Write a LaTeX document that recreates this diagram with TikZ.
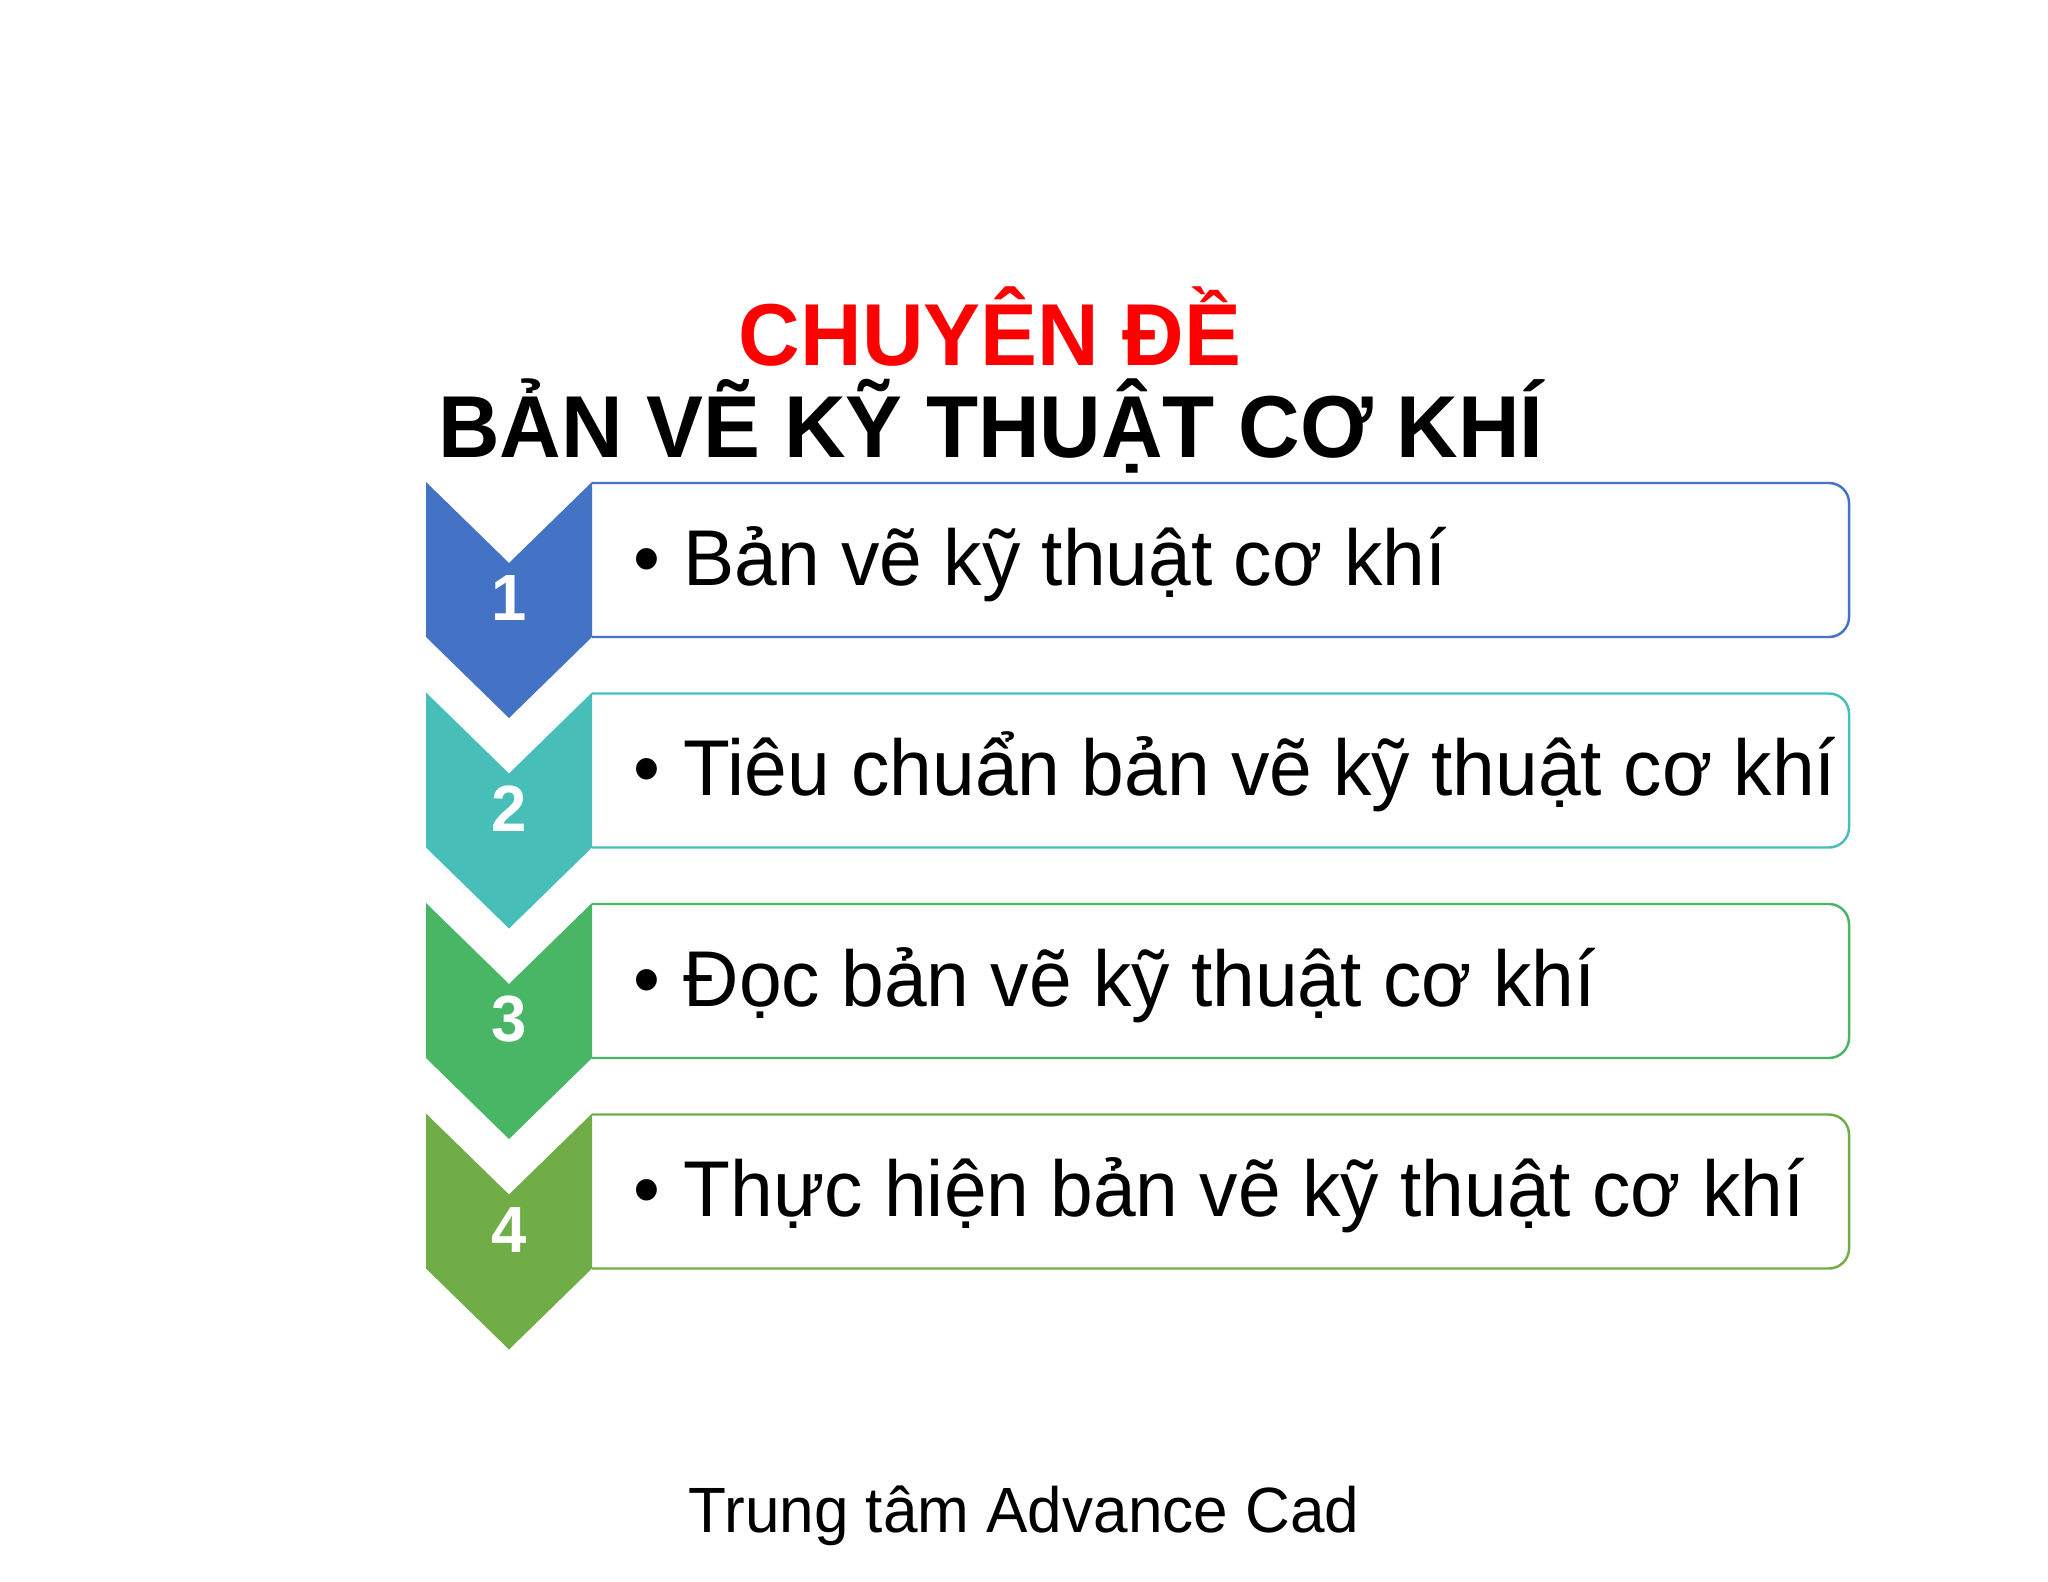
\documentclass[tikz,border=0pt]{standalone}
\usepackage{fontspec}
\setmainfont[FakeStretch=0.97]{Liberation Sans}

\definecolor{stepblue}{HTML}{4472C4}
\definecolor{stepteal}{HTML}{47BFB8}
\definecolor{stepgreen}{HTML}{48B664}
\definecolor{stepolive}{HTML}{70AD47}
\definecolor{titlered}{HTML}{FF0000}

\tikzset{
  numlabel/.style={text=white, inner sep=0pt, font=\fontsize{18.6}{22}\selectfont\bfseries},
  itemlabel/.style={anchor=base west, inner sep=0pt, font=\fontsize{22.5}{27}\selectfont},
  titlelabel/.style={anchor=base, inner sep=0pt, font=\fontsize{25}{30}\selectfont\bfseries},
  footlabel/.style={anchor=base, inner sep=0pt, font=\fontsize{18.2}{22}\selectfont}
}

\begin{document}
\begin{tikzpicture}[x=0.01cm,y=-0.01cm]
  \def\chl{426}
  \def\chm{509}
  \def\chr{592}
  \def\boxr{1849}
  \fill [white] (0,0) rectangle (2048,1582);
  \useasboundingbox (0,0) rectangle (2048,1582);

  \node (title) [titlelabel, text=titlered] at (990,366) {CHUYÊN ĐỀ};
  \node (subtitle) [titlelabel] at (991,457) {BẢN VẼ KỸ THUẬT CƠ KHÍ};

  \foreach \n/\col/\txt [evaluate=\n as \ytop using {482+210.5*(\n-1)}] in
    {1/stepblue/{Bản vẽ kỹ thuật cơ khí},
     2/stepteal/{Tiêu chuẩn bản vẽ kỹ thuật cơ khí},
     3/stepgreen/{Đọc bản vẽ kỹ thuật cơ khí},
     4/stepolive/{Thực hiện bản vẽ kỹ thuật cơ khí}}
  {
    \filldraw [fill=white, draw=\col, line width=.7pt, rounded corners=0.2cm]
      (\chr,\ytop+1) -- (\boxr,\ytop+1) -- (\boxr,\ytop+155) -- (\chr,\ytop+155);
    \fill [\col] (\chl,\ytop) -- (\chm,\ytop+81) -- (\chr,\ytop) -- (\chr,\ytop+155)
      -- (\chm,\ytop+236) -- (\chl,\ytop+155) -- cycle;
    \node (num\n) [numlabel] at (\chm,\ytop+116) {\n};
    \node (item\n) [itemlabel] at (683,\ytop+103) {\llap{•\hspace{0.3em}}\txt};
  }

  \node (foot) [footlabel] at (1024,1532) {Trung tâm Advance Cad};
\end{tikzpicture}
\end{document}
